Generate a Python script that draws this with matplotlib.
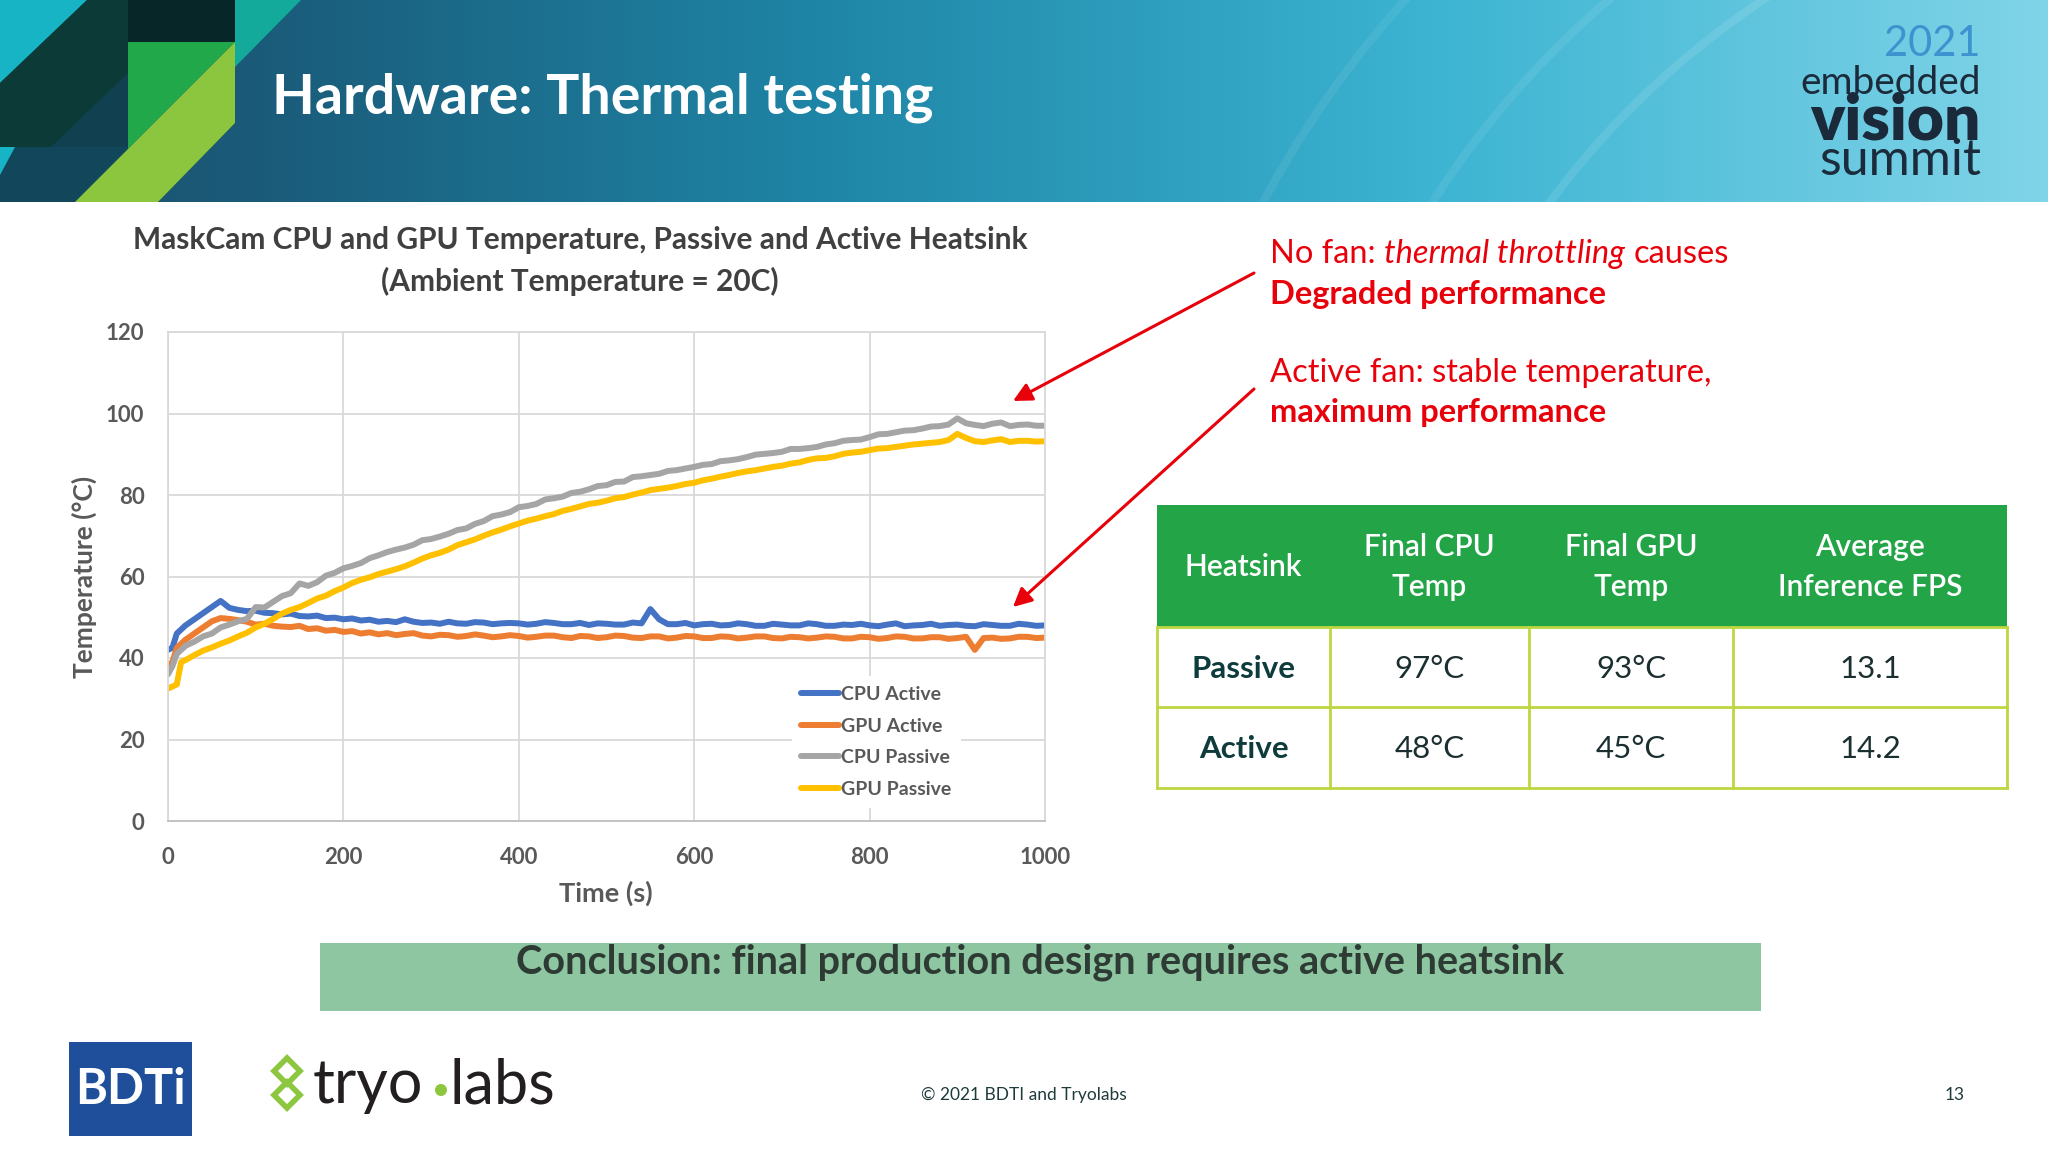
import matplotlib
matplotlib.use("Agg")
import matplotlib.pyplot as plt
import numpy as np
from matplotlib.patches import Polygon, Rectangle, Circle
from matplotlib.colors import LinearSegmentedColormap
from matplotlib import font_manager

# ---------------- data ----------------
time_s = [0, 5, 10, 15, 20, 30, 40, 50, 60, 70,
          80, 90, 100, 110, 120, 130, 140, 150, 160, 170,
          180, 190, 200, 210, 220, 230, 240, 250, 260, 270,
          280, 290, 300, 310, 320, 330, 340, 350, 360, 370,
          380, 390, 400, 410, 420, 430, 440, 450, 460, 470,
          480, 490, 500, 510, 520, 530, 540, 550, 560, 570,
          580, 590, 600, 610, 620, 630, 640, 650, 660, 670,
          680, 690, 700, 710, 720, 730, 740, 750, 760, 770,
          780, 790, 800, 810, 820, 830, 840, 850, 860, 870,
          880, 890, 900, 910, 920, 930, 940, 950, 960, 970,
          980, 990, 1000]

cpu_active = [42.0, 42.5, 46.0, 47.0, 48.0, 49.5, 51.0, 52.5, 54.0, 52.3,
              51.8, 51.5, 51.6, 51.1, 51.0, 50.7, 50.9, 50.3, 50.2, 50.4,
              49.8, 49.9, 49.5, 49.7, 49.2, 49.4, 48.9, 49.1, 48.8, 49.5,
              48.9, 48.6, 48.7, 48.4, 48.9, 48.5, 48.4, 48.8, 48.7, 48.3,
              48.5, 48.6, 48.5, 48.2, 48.4, 48.8, 48.6, 48.3, 48.3, 48.6,
              48.1, 48.5, 48.4, 48.2, 48.2, 48.7, 48.5, 52.0, 49.5, 48.3,
              48.3, 48.6, 48.0, 48.3, 48.4, 48.0, 48.1, 48.5, 48.3, 47.9,
              47.9, 48.4, 48.2, 48.0, 48.0, 48.5, 48.3, 47.9, 47.9, 48.2,
              48.1, 48.4, 48.0, 47.8, 48.2, 48.5, 47.8, 48.0, 48.1, 48.4,
              47.9, 48.1, 48.2, 47.9, 47.8, 48.3, 48.1, 47.9, 47.9, 48.4,
              48.2, 47.9, 48.0]

gpu_active = [38.0, 39.0, 42.5, 43.5, 44.5, 46.0, 47.5, 49.0, 49.8, 49.6,
              49.3, 48.9, 48.2, 48.4, 47.9, 47.7, 47.6, 47.9, 47.1, 47.3,
              46.7, 46.9, 46.4, 46.6, 46.0, 46.3, 45.8, 46.1, 45.6, 45.9,
              46.1, 45.5, 45.3, 45.7, 45.6, 45.2, 45.4, 45.8, 45.5, 45.1,
              45.3, 45.6, 45.4, 45.0, 45.2, 45.5, 45.5, 45.1, 44.9, 45.4,
              45.3, 44.9, 45.1, 45.5, 45.4, 45.0, 44.9, 45.3, 45.3, 44.8,
              45.0, 45.4, 45.3, 44.9, 44.9, 45.3, 45.2, 44.8, 45.0, 45.3,
              45.3, 44.9, 44.8, 45.2, 45.1, 44.8, 45.0, 45.3, 45.2, 44.8,
              44.8, 45.2, 45.1, 44.7, 44.9, 45.3, 45.2, 44.8, 44.8, 45.1,
              45.1, 44.7, 44.9, 45.2, 42.0, 44.9, 45.0, 44.7, 44.8, 45.2,
              45.2, 44.9, 45.0]

cpu_passive = [36.0, 38.0, 41.0, 42.0, 43.0, 44.0, 45.3, 46.0, 47.5, 48.2,
               49.0, 49.6, 52.5, 52.4, 53.8, 55.2, 55.9, 58.3, 57.7, 58.6,
               60.2, 60.9, 62.0, 62.6, 63.3, 64.5, 65.2, 66.0, 66.6, 67.1,
               67.8, 68.9, 69.2, 69.8, 70.5, 71.4, 71.8, 72.9, 73.6, 74.8,
               75.2, 75.8, 77.0, 77.3, 77.8, 78.9, 79.2, 79.6, 80.5, 80.8,
               81.4, 82.2, 82.4, 83.2, 83.3, 84.4, 84.6, 84.9, 85.2, 85.9,
               86.1, 86.5, 86.9, 87.4, 87.6, 88.3, 88.5, 88.8, 89.3, 89.9,
               90.1, 90.3, 90.6, 91.3, 91.3, 91.5, 91.8, 92.4, 92.7, 93.3,
               93.5, 93.6, 94.2, 94.9, 95.0, 95.4, 95.8, 95.9, 96.3, 96.8,
               96.9, 97.3, 98.8, 97.6, 97.2, 96.9, 97.5, 97.8, 96.9, 97.2,
               97.3, 97.0, 97.0]

gpu_passive = [32.5, 33.0, 33.5, 39.0, 39.5, 40.7, 41.8, 42.6, 43.5, 44.3,
               45.3, 46.2, 47.5, 48.4, 49.6, 50.9, 51.8, 52.5, 53.5, 54.6,
               55.3, 56.4, 57.3, 58.4, 59.2, 59.8, 60.6, 61.2, 61.8, 62.5,
               63.4, 64.4, 65.2, 65.8, 66.6, 67.7, 68.4, 69.1, 70.0, 70.8,
               71.5, 72.3, 73.0, 73.7, 74.2, 74.8, 75.3, 76.1, 76.6, 77.2,
               77.8, 78.1, 78.6, 79.2, 79.5, 80.1, 80.6, 81.2, 81.5, 81.8,
               82.2, 82.7, 83.0, 83.6, 84.0, 84.5, 84.9, 85.4, 85.8, 86.1,
               86.5, 86.9, 87.2, 87.7, 88.0, 88.6, 89.0, 89.1, 89.5, 90.1,
               90.4, 90.6, 91.0, 91.4, 91.5, 91.8, 92.1, 92.4, 92.6, 92.8,
               93.0, 93.5, 95.0, 94.0, 93.2, 93.0, 93.4, 93.7, 93.0, 93.3,
               93.3, 93.1, 93.2]

series_labels = ["CPU Active", "GPU Active", "CPU Passive", "GPU Passive"]
series_colors = ["#4472C4", "#ED7D31", "#A5A5A5", "#FFC000"]
x_ticks = [0, 200, 400, 600, 800, 1000]
y_ticks = [0, 20, 40, 60, 80, 100, 120]

table_header = ["Heatsink", "Final CPU\nTemp", "Final GPU\nTemp", "Average\nInference FPS"]
table_rows = [["Passive", "97°C", "93°C", "13.1"],
              ["Active", "48°C", "45°C", "14.2"]]

# ---------------- fonts ----------------
names = {f.name for f in font_manager.fontManager.ttflist}
FONT = "Lato" if "Lato" in names else "DejaVu Sans"
plt.rcParams["font.family"] = [FONT, "DejaVu Sans"]

W, H = 2048, 1152
fig = plt.figure(figsize=(W / 100, H / 100), dpi=100, facecolor="white")
bg = fig.add_axes([0, 0, 1, 1])
bg.set_xlim(0, W)
bg.set_ylim(H, 0)
bg.axis("off")
renderer = fig.canvas.get_renderer()

# ---------------- header ----------------
HB = 202
cmap = LinearSegmentedColormap.from_list(
    "hdr", [(0.0, "#1a5370"), (0.12, "#1a5a78"), (0.4, "#1f85a6"), (0.7, "#3cb4d2"), (1.0, "#80d4e8")])
grad = np.linspace(0, 1, 512)[None, :]
bg.imshow(grad, cmap=cmap, extent=(0, W, HB, 0), aspect="auto", zorder=0)
for r, a in [(900, 0.10), (1000, 0.08), (1150, 0.07)]:
    th = np.linspace(np.pi * 1.05, np.pi * 1.5, 100)
    bg.plot(2300 + r * np.cos(th), 650 + r * np.sin(th) * 0.9, color="white", alpha=a, lw=6, zorder=1)
bg.set_xlim(0, W)
bg.set_ylim(H, 0)

polys = [
    ([(0, 0), (235, 0), (235, 123), (158, HB), (0, HB)], "#12465a"),
    ([(0, 0), (87, 0), (0, 83)], "#16b4c4"),
    ([(87, 0), (128, 0), (128, 147), (0, 147), (0, 83)], "#0c3b37"),
    ([(128, 73), (128, 147), (51, 147)], "#114150"),
    ([(0, 147), (15, 147), (0, 175)], "#16b4c4"),
    ([(128, 0), (235, 0), (235, 42), (128, 42)], "#072628"),
    ([(128, 42), (235, 42), (128, 149)], "#21a84a"),
    ([(235, 42), (235, 123), (158, HB), (75, HB)], "#8cc63f"),
    ([(235, 0), (301, 0), (235, 67)], "#13aa9b"),
]
for pts, c in polys:
    bg.add_patch(Polygon(pts, closed=True, facecolor=c, edgecolor="none", zorder=2))

bg.text(272, 98, "Hardware: Thermal testing", color="white", fontsize=40, fontweight="bold",
        ha="left", va="center", zorder=3)

# event logo
bg.text(1981, 44, "2021", color="#3d93cf", fontsize=30, fontweight="normal", ha="right", va="center", zorder=3)
bg.text(1981, 83, "embedded", color="#1b2b3b", fontsize=28, fontweight="normal", ha="right", va="center", zorder=3)
bg.text(1981, 121, "vision", color="#1a2a3a", fontsize=46, fontweight="heavy", ha="right", va="center", zorder=3)
bg.text(1981, 161, "summit", color="#1b2b3b", fontsize=36, fontweight="normal", ha="right", va="center", zorder=3)

# ---------------- chart ----------------
AX_L, AX_R, AX_T, AX_B = 168, 1045, 332, 821
ax = fig.add_axes([AX_L / W, 1 - AX_B / H, (AX_R - AX_L) / W, (AX_B - AX_T) / H])
series = [cpu_active, gpu_active, cpu_passive, gpu_passive]
for vals, lab, col in zip(series, series_labels, series_colors):
    ax.plot(time_s, vals, color=col, lw=4.3, label=lab, solid_joinstyle="round", solid_capstyle="round")
ax.set_xlim(0, 1000)
ax.set_ylim(0, 120)
ax.set_xticks(x_ticks)
ax.set_yticks(y_ticks)
ax.grid(True, color="#D9D9D9", lw=1.3)
ax.set_axisbelow(True)
for s in ax.spines.values():
    s.set_color("#D9D9D9")
    s.set_linewidth(1.3)
ax.spines["bottom"].set_color("#BFBFBF")
ax.tick_params(length=0, labelsize=16, labelcolor="#595959")
ax.tick_params(axis="y", pad=17)
ax.tick_params(axis="x", pad=19)
for lbl in ax.get_xticklabels() + ax.get_yticklabels():
    lbl.set_fontweight("bold")
leg = ax.legend(loc="lower left", bbox_to_anchor=(0.711, 0.027), frameon=True, facecolor="white",
                edgecolor="none", framealpha=1, fontsize=14, handlelength=1.95, handletextpad=0.1,
                labelspacing=0.76, borderpad=0.5, borderaxespad=0, labelcolor="#595959")
for t in leg.get_texts():
    t.set_fontweight("bold")
for l in leg.get_lines():
    l.set_linewidth(4.3)

bg.text(580, 261, "MaskCam CPU and GPU Temperature, Passive and Active Heatsink\n(Ambient Temperature = 20C)",
        ha="center", va="center", fontsize=21.5, fontweight="bold", color="#404040", linespacing=1.5)
bg.text(84, 577, "Temperature (°C)", rotation=90, ha="center", va="center", fontsize=19,
        fontweight="bold", color="#595959")
bg.text(606, 893, "Time (s)", ha="center", va="center", fontsize=19.5, fontweight="bold", color="#595959")

# overlay for arrows (above chart axes)
ov = fig.add_axes([0, 0, 1, 1], facecolor="none")
ov.set_xlim(0, W)
ov.set_ylim(H, 0)
ov.axis("off")

# ---------------- annotations ----------------
RED = "#E8000B"


def text_w(s, **kw):
    t = bg.text(0, 0, s, **kw)
    w = t.get_window_extent(renderer=renderer).width
    t.remove()
    return w


def draw_line(x, y, segs, **common):
    sp = text_w("x x", **common) - text_w("xx", **common)
    for i, (s, kw) in enumerate(segs):
        if i > 0:
            x += sp
        t = bg.text(x, y, s, **common, **kw)
        x += t.get_window_extent(renderer=renderer).width


common = dict(fontsize=23.5, color=RED, ha="left", va="baseline")
draw_line(1270, 263, [("No fan:", {}), ("thermal throttling", {"style": "italic"}), ("causes", {})], **common)
bg.text(1270, 304, "Degraded performance", fontweight="bold", **common)
bg.text(1270, 382, "Active fan: stable temperature,", **common)
bg.text(1270, 422, "maximum performance", fontweight="bold", **common)

arrow = dict(arrowstyle="-|>", color=RED, lw=2.2, mutation_scale=28, shrinkA=0, shrinkB=0)
ov.annotate("", xy=(1013, 401), xytext=(1254, 273), arrowprops=arrow)
ov.annotate("", xy=(1013, 607), xytext=(1254, 389), arrowprops=arrow)

# ---------------- table ----------------
col_x = [1157, 1330, 1529, 1733, 2007]
row_y = [505, 627, 707, 788]
GREEN = "#22A447"
BORDER = "#BFD640"
bg.add_patch(Rectangle((col_x[0], row_y[0]), col_x[-1] - col_x[0], row_y[1] - row_y[0],
                       facecolor=GREEN, edgecolor="none", zorder=2))
for j, h in enumerate(table_header):
    cx = (col_x[j] + col_x[j + 1]) / 2
    bg.text(cx, (row_y[0] + row_y[1]) / 2 + 1, h, ha="center", va="center", color="white",
            fontsize=21.5, fontweight="semibold", linespacing=1.55, zorder=3)
for i, row in enumerate(table_rows):
    cy = (row_y[i + 1] + row_y[i + 2]) / 2 + 2
    for j, v in enumerate(row):
        cx = (col_x[j] + col_x[j + 1]) / 2
        bg.text(cx, cy, v, ha="center", va="center", fontsize=22.5,
                fontweight="bold" if j == 0 else "normal",
                color="#0E3B3C" if j == 0 else "#1B2E30", zorder=3)
for y in row_y[1:]:
    bg.plot([col_x[0], col_x[-1]], [y, y], color=BORDER, lw=2, zorder=3)
for x in col_x:
    bg.plot([x, x], [row_y[1], row_y[-1]], color=BORDER, lw=2, zorder=3)

# ---------------- conclusion ----------------
bg.add_patch(Rectangle((320, 943), 1441, 68, facecolor="#8DC6A1", edgecolor="none", zorder=2))
bg.text(1040, 962, "Conclusion: final production design requires active heatsink", ha="center",
        va="center", fontsize=28.5, fontweight="bold", color="#2E3B34", zorder=3)

# ---------------- footer ----------------
bg.add_patch(Rectangle((69, 1042), 123, 94, facecolor="#1F4E9A", edgecolor="none", zorder=2))
bg.text(130, 1090, "BDTi", ha="center", va="center", fontsize=35, fontweight="bold",
        color="white", zorder=3)

LIME = "#8DC63F"
for cy in (1071, 1095):
    bg.add_patch(Polygon([(287, cy - 13), (300, cy), (287, cy + 13), (274, cy)], closed=True,
                         facecolor="none", edgecolor=LIME, lw=4, zorder=3))
bg.text(313, 1086, "tryo", ha="left", va="center", fontsize=44, color="#231F20", zorder=3)
bg.add_patch(Circle((441, 1090), 6, facecolor=LIME, edgecolor="none", zorder=3))
bg.text(450, 1086, "labs", ha="left", va="center", fontsize=44, color="#231F20", zorder=3)

bg.text(1024, 1095, "© 2021 BDTI and Tryolabs", ha="center", va="center", fontsize=12.5, color="#1E3A3A")
bg.text(1955, 1095, "13", ha="center", va="center", fontsize=12.5, color="#1E3A3A")

fig.savefig("out.png", dpi=100, facecolor="white")
